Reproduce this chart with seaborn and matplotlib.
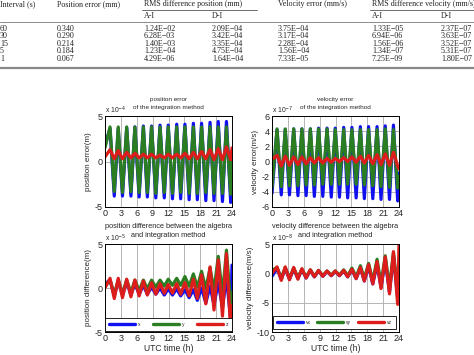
import matplotlib
matplotlib.use("Agg")
import matplotlib.pyplot as plt
from matplotlib.lines import Line2D
from matplotlib import font_manager
import seaborn as sns

# ---------------- table data ----------------
col_headers = ["Interval (s)", "Position error (mm)", "RMS difference position (mm)",
               "Velocity error (mm/s)", "RMS difference velocity (mm/s)"]
sub_headers = ["A-I", "D-I"]
intervals = ["60", "30", "15", "5", "1"]
position_error_mm = ["0.340", "0.290", "0.214", "0.184", "0.067"]
rms_pos_ai = ["1.24E\u221202", "6.28E\u221203", "1.40E\u221203", "1.23E\u221204", "4.29E\u221206"]
rms_pos_di = ["2.09E\u221204", "3.42E\u221204", "3.35E\u221204", "4.75E\u221204", "1.64E\u221204"]
velocity_error_mms = ["3.75E\u221204", "3.17E\u221204", "2.28E\u221204", "1.56E\u221204", "7.33E\u221205"]
rms_vel_ai = ["1.33E\u221205", "6.94E\u221206", "1.56E\u221206", "1.34E\u221207", "7.25E\u221209"]
rms_vel_di = ["2.37E\u221207", "3.63E\u221207", "3.52E\u221207", "5.31E\u221207", "1.80E\u221207"]

# ---------------- curve data (UTC hours, extrema) ----------------
utc_hours = [0.0, 0.95, 1.75, 2.5, 3.3, 4.1, 4.9, 5.65, 6.45, 7.25, 8.0, 8.8, 9.6,
             10.4, 11.2, 11.95, 12.75, 13.55, 14.3, 15.1, 15.9, 16.7, 17.45, 18.25,
             19.05, 19.85, 20.6, 21.4, 22.2, 22.95, 23.75, 24.0]

# position error, x 1e-4 m
pos_err_x = [1.8, 3.6, -3.8, 3.6, -3.8, 3.7, -3.8, 3.8, -3.9, 3.9, -3.9, 3.9, -4.0, 4.0, -4.0,
             4.0, -4.1, 4.1, -4.1, 4.1, -4.2, 4.2, -4.2, 4.2, -4.3, 4.3, -4.3, 4.4, -4.4, 4.4, -4.5, -1.0]
pos_err_y = [1.5, 3.8, -3.3, 3.8, -3.4, 3.8, -3.3, 3.8, -3.4, 3.8, -3.4, 3.8, -3.5, 3.8, -3.4,
             3.8, -3.5, 3.8, -3.4, 3.8, -3.5, 3.8, -3.5, 3.8, -3.4, 3.8, -3.5, 3.8, -3.5, 3.8, -3.6, 1.0]
pos_err_z = [0.5, 1.3, 0.3, 1.2, 0.3, 1.0, 0.4, 0.9, 0.4, 0.8, 0.4, 0.8, 0.4, 0.7, 0.4,
             0.8, 0.4, 0.8, 0.4, 0.9, 0.3, 1.0, 0.3, 1.1, 0.3, 1.3, 0.2, 1.4, 0.2, 1.6, 0.2, 1.5]

# velocity error, x 1e-7 m/s
vel_err_x = [-4.2, 4.2, -4.4, 4.2, -4.4, 4.3, -4.5, 4.3, -4.5, 4.3, -4.6, 4.4, -4.6, 4.4, -4.7,
             4.4, -4.7, 4.5, -4.8, 4.5, -4.8, 4.6, -4.9, 4.6, -4.9, 4.6, -5.0, 4.7, -5.0, 4.8, -5.2, -1.5]
vel_err_y = [-3.4, 4.3, -3.3, 4.3, -3.2, 4.3, -3.2, 4.3, -3.1, 4.3, -3.1, 4.3, -3.0, 4.3, -3.0,
             4.2, -3.0, 4.2, -3.0, 4.2, -3.0, 4.2, -3.1, 4.2, -3.2, 4.2, -3.3, 4.3, -3.4, 4.2, -3.5, -2.0]
vel_err_z = [0.3, 0.8, -0.6, 0.7, -0.5, 0.6, -0.4, 0.6, -0.3, 0.5, -0.2, 0.5, -0.2, 0.4, -0.1,
             0.4, 0.0, 0.5, 0.0, 0.6, -0.1, 0.7, -0.2, 0.8, -0.3, 0.9, -0.4, 1.0, -0.5, 1.2, -0.6, -1.0]

# position difference, x 1e-5 m
pos_diff_x = [0.5, 0.9, -0.9, 0.8, -0.8, 0.7, -0.8, 0.5, -0.7, 0.3, -0.7, 0.1, -0.7, 0.0, -0.8,
              -0.1, -0.8, -0.1, -0.9, -0.2, -1.1, -0.2, -1.4, 0.0, -1.7, 0.2, -1.9, 0.6, -2.2, 1.2, -3.6, 2.6]
pos_diff_y = [0.3, 0.9, -0.7, 0.9, -0.6, 0.9, -0.5, 0.9, -0.3, 0.9, -0.1, 0.9, 0.1, 0.9, 0.2,
              1.0, 0.3, 1.1, 0.3, 1.3, 0.2, 1.6, 0.1, 1.9, -0.1, 2.3, -0.3, 3.6, -0.8, 4.3, -1.8, -0.5]
pos_diff_z = [0.0, 1.1, -1.2, 1.1, -1.1, 1.0, -1.0, 0.9, -0.9, 0.8, -0.8, 0.6, -0.7, 0.5, -0.6,
              0.4, -0.6, 0.5, -0.7, 0.6, -0.9, 1.0, -1.2, 1.5, -1.8, 2.4, -2.5, 3.2, -3.2, 3.9, -4.8, -2.0]

# velocity difference, x 1e-8 m/s
vel_diff_x = [-0.5, 0.8, -1.0, 0.8, -1.0, 0.7, -0.9, 0.6, -0.8, 0.5, -0.6, 0.4, -0.5, 0.3, -0.4,
              0.3, -0.4, 0.4, -0.6, 0.6, -0.9, 0.9, -1.3, 1.2, -1.8, 1.6, -2.4, 2.2, -3.2, 3.0, -4.2, 1.0]
vel_diff_y = [0.5, 1.0, -0.8, 1.0, -0.8, 0.9, -0.7, 0.7, -0.6, 0.6, -0.5, 0.5, -0.4, 0.4, -0.3,
              0.4, -0.3, 0.6, -0.4, 0.9, -0.6, 1.3, -0.9, 1.7, -1.3, 2.4, -1.8, 3.0, -2.4, 3.5, -3.0, -3.5]
vel_diff_z = [0.0, 1.1, -1.2, 1.1, -1.1, 1.0, -1.0, 0.8, -0.8, 0.6, -0.6, 0.5, -0.5, 0.4, -0.4,
              0.4, -0.4, 0.5, -0.6, 0.7, -0.9, 1.0, -1.3, 1.5, -1.8, 2.0, -2.6, 2.8, -3.5, 3.7, -5.3, 5.0]

xticks = [0, 3, 6, 9, 12, 15, 18, 21, 24]
colors = ["#1010f0", "#2b7d22", "#dd1c1c"]

# ---------------- style ----------------
sns.set_style("white")
names = {f.name for f in font_manager.fontManager.ttflist}
narrow = "Liberation Sans Narrow" if "Liberation Sans Narrow" in names else "Liberation Sans"
plt.rcParams["font.family"] = ["Liberation Sans", "DejaVu Sans"]
plt.rcParams["axes.unicode_minus"] = False

W, H = 474, 355
fig = plt.figure(figsize=(W / 100, H / 100), dpi=100)


def px(x, y):
    return x / W, 1 - y / H


# ---------------- table ----------------
tfont = dict(family=["Liberation Serif", "DejaVu Serif"], fontsize=5.8, color="#222222",
             ha="left", va="center")
col_x = [0, 57, 144, 278, 372]
for cx, txt in zip(col_x, col_headers):
    fig.text(*px(cx, 4.5), txt, **tfont)
for cx, txt in zip([144, 212, 372, 441], sub_headers * 2):
    fig.text(*px(cx, 16), txt, **tfont)
row_y = [29, 36.4, 43.7, 51.1, 58.7]
columns = [(0, intervals), (57, position_error_mm), (144, rms_pos_ai), (212, rms_pos_di),
           (278, velocity_error_mms), (372, rms_vel_ai), (441, rms_vel_di)]
for cx, vals in columns:
    for ry, v in zip(row_y, vals):
        fig.text(*px(cx, ry), v, **tfont)


def hline(x0, x1, y, lw, c):
    fig.add_artist(Line2D([x0 / W, x1 / W], [1 - y / H] * 2, transform=fig.transFigure,
                          color=c, lw=lw))


hline(142, 257, 9.5, 0.6, "#555555")
hline(370, 474, 9.5, 0.6, "#555555")
hline(0, 474, 21.5, 0.6, "#777777")
hline(0, 474, 67.5, 1.6, "#888888")

# ---------------- panels ----------------
def axes_at(x0, y0, x1, y1):
    return fig.add_axes([x0 / W, 1 - y1 / H, (x1 - x0) / W, (y1 - y0) / H])


panels = [
    dict(box=(105, 116, 232, 207), data=[pos_err_x, pos_err_y, pos_err_z], ylim=(-5, 5),
         yticks=[-5, 0, 5], ygrid=False, exp="-4", ylabel="position error(m)",
         title=["position error", "of the integration method"], ty=(1.176, 1.088), tsize=4.6,
         legend=None),
    dict(box=(272, 116, 399, 207), data=[vel_err_x, vel_err_y, vel_err_z], ylim=(-6, 6),
         yticks=[-6, -4, -2, 0, 2, 4, 6], ygrid=True, exp="-7", ylabel="velocity error(m/s)",
         title=["velocity error", "of the integration method"], ty=(1.176, 1.088), tsize=4.6,
         legend=None),
    dict(box=(105, 244, 232, 332), data=[pos_diff_x, pos_diff_y, pos_diff_z], ylim=(-5, 5),
         yticks=[-5, 0, 5], ygrid=False, exp="-5", ylabel="position difference(m)",
         title=["position difference between the algebra", "and integration method"],
         ty=(1.195, 1.092), tsize=5.3,
         legend=(["x", "y", "z"], (0.0, 0.01, 1.0, 0.17))),
    dict(box=(272, 244, 399, 332), data=[vel_diff_x, vel_diff_y, vel_diff_z], ylim=(-10, 5),
         yticks=[-10, -5, 0, 5], ygrid=True, exp="-8", ylabel="velocity difference(m/s)",
         title=["velocity difference between the algebra", "and integration method"],
         ty=(1.195, 1.092), tsize=5.3,
         legend=(["vx", "vy", "vz"], (0.008, 0.035, 0.965, 0.13))),
]

for p in panels:
    ax = axes_at(*p["box"])
    for vals, col in zip(p["data"], colors):
        sns.lineplot(x=utc_hours, y=vals, color=col, lw=2.3, ax=ax, legend=False)
    ax.set_xlim(0, 24)
    ax.set_ylim(*p["ylim"])
    ax.set_xticks(xticks)
    ax.set_yticks(p["yticks"])
    ax.tick_params(labelsize=6.5, direction="in", length=2, width=0.5, pad=1.5)
    ax.xaxis.grid(True, color="#b5b5b5", lw=0.7)
    ax.yaxis.grid(p["ygrid"], color="#b5b5b5", lw=0.7)
    ax.set_axisbelow(True)
    for s in ax.spines.values():
        s.set_color("black")
        s.set_linewidth(0.7)
    ax.set_ylabel(p["ylabel"], fontsize=5.8, family=narrow, labelpad=2)
    for line, yy in zip(p["title"], p["ty"]):
        ax.text(0.5, yy, line, transform=ax.transAxes, fontsize=p["tsize"], family=narrow,
                ha="center", va="center")
    ax.text(0, 1.005, "x 10$^{" + p["exp"] + "}$", transform=ax.transAxes, fontsize=4.9,
            ha="left", va="bottom")
    if p["legend"] is not None:
        ax.set_xlabel("UTC time (h)", fontsize=6.2, family=narrow, labelpad=1)
        labels, bbox = p["legend"]
        leg = ax.legend(handles=ax.lines[:3], labels=labels, loc="lower left",
                        bbox_to_anchor=bbox, mode="expand", ncol=3, fontsize=3.6,
                        handlelength=5.2, handletextpad=0.6, borderpad=0.8,
                        borderaxespad=0, fancybox=False, framealpha=1, edgecolor="black")
        leg.get_frame().set_linewidth(0.6)
        for h in leg.get_lines():
            h.set_linewidth(2.4)
    else:
        ax.set_xlabel("")

fig.savefig("out.png", dpi=100)
